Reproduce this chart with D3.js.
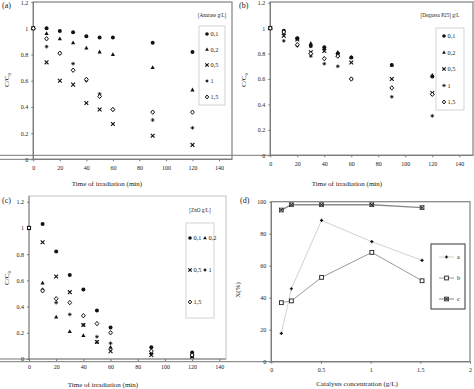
<!DOCTYPE html>
<html><head><meta charset="utf-8">
<script src="https://cdn.jsdelivr.net/npm/d3@7"></script>
<style>body{margin:0;background:#fff}svg{display:block}text{font-family:"Liberation Serif","DejaVu Serif",serif;fill:#222}</style>
</head><body><svg id="c" width="474" height="389"></svg>
<script>
const times = [0,10,20,30,40,50,60,90,120];
const seriesNames = ["0,1","0,2","0,5","1","1,5"];
const symbolsKeys = ["circle","triangle","x","plus","diamond"];
// Panel (a) Anatase
const a01 = [1,1.00,0.98,0.97,0.94,0.93,0.93,0.89,0.82];
const a02 = [1,0.96,0.92,0.89,0.85,0.82,0.80,0.70,0.53];
const a05 = [1,0.74,0.60,0.57,0.43,0.38,0.27,0.18,0.11];
const a1  = [1,0.86,0.81,0.73,0.60,0.50,0.38,0.30,0.24];
const a15 = [1,0.92,0.81,0.68,0.61,0.48,0.38,0.36,0.36];
// Panel (b) Degussa P25
const b01 = [1,0.98,0.92,0.86,0.85,0.80,0.77,0.71,0.62];
const b02 = [1,0.96,0.92,0.88,0.84,0.81,0.77,0.71,0.63];
const b05 = [1,0.94,0.91,0.81,0.82,0.79,0.73,0.60,0.49];
const b1  = [1,0.90,0.86,0.78,0.72,0.70,0.60,0.46,0.31];
const b15 = [1,0.97,0.87,0.80,0.76,0.78,0.60,0.53,0.48];
// Panel (c) ZnO
const c01 = [1,1.03,0.82,0.64,0.53,0.37,0.24,0.09,0.05];
const c02 = [1,0.58,0.32,0.21,0.18,0.13,0.09,0.05,0.02];
const c05 = [1,0.89,0.63,0.51,0.26,0.13,0.06,0.03,0.02];
const c1  = [1,0.53,0.43,0.34,0.26,0.17,0.12,0.04,0.02];
const c15 = [1,0.52,0.46,0.43,0.33,0.27,0.20,0.06,0.03];
// Panel (d)
const conc = [0.1,0.2,0.5,1,1.5];
const dA = [17.7,45.6,88.3,75,63.3];
const dB = [36.9,38,52.7,68.3,50.6];
const dC = [94.8,98.1,98.1,98.1,96.3];
const dNames = ["a","b","c"];
const xTicksT = [0,20,40,60,80,100,120,140];
const yTicksC = [0,0.2,0.4,0.6,0.8,1,1.2];
const xTicksD = [0,0.5,1,1.5,2];
const yTicksD = [0,20,40,60,80,100];

const svg = d3.select("#c");

function drawMarker(g, key, x, y, s){
  s = s||1.9;
  if(key==="circle") g.append("circle").attr("cx",x).attr("cy",y).attr("r",s*1.05).attr("fill","#111");
  else if(key==="triangle") g.append("path").attr("d",`M${x},${y-s*1.2}L${x+s*1.1},${y+s*0.8}L${x-s*1.1},${y+s*0.8}Z`).attr("fill","#111");
  else if(key==="x"){ g.append("path").attr("d",`M${x-s},${y-s}L${x+s},${y+s}M${x-s},${y+s}L${x+s},${y-s}`).attr("stroke","#111").attr("stroke-width",1.1).attr("fill","none"); }
  else if(key==="plus"){ g.append("path").attr("d",`M${x-s},${y}H${x+s}M${x},${y-s}V${y+s}M${x-s*0.6},${y-s*0.6}L${x+s*0.6},${y+s*0.6}M${x-s*0.6},${y+s*0.6}L${x+s*0.6},${y-s*0.6}`).attr("stroke","#111").attr("stroke-width",0.8).attr("fill","none"); }
  else if(key==="diamond") g.append("path").attr("d",`M${x},${y-s*1.15}L${x+s},${y}L${x},${y+s*1.15}L${x-s},${y}Z`).attr("stroke","#111").attr("stroke-width",1).attr("fill","#fff");
  else if(key==="square") g.append("rect").attr("x",x-s).attr("y",y-s).attr("width",2*s).attr("height",2*s).attr("stroke","#333").attr("stroke-width",1).attr("fill","#fff");
  else if(key==="xsq"){ g.append("rect").attr("x",x-s).attr("y",y-s).attr("width",2*s).attr("height",2*s).attr("stroke","#333").attr("stroke-width",0.8).attr("fill","none"); g.append("path").attr("d",`M${x-s},${y-s}L${x+s},${y+s}M${x-s},${y+s}L${x+s},${y-s}`).attr("stroke","#111").attr("stroke-width",1); }
  else if(key==="star"){ g.append("path").attr("d",`M${x-s},${y}H${x+s}M${x},${y-s}V${y+s}`).attr("stroke","#111").attr("stroke-width",1.2); }
}

function panel(opt){
  const g = svg.append("g");
  const x = d3.scaleLinear().domain(opt.xd).range(opt.xr);
  const y = d3.scaleLinear().domain(opt.yd).range(opt.yr);
  g.append("rect").attr("x",opt.xr[0]).attr("y",opt.frameTop).attr("width",opt.frameRight-opt.xr[0]).attr("height",opt.yr[0]-opt.frameTop)
    .attr("fill","none").attr("stroke",opt.frameColor||"#8a8a8a").attr("stroke-width",1.3);
  const xa = g.append("g").attr("transform",`translate(0,${opt.yr[0]})`)
    .call(d3.axisBottom(x).tickValues(opt.xt).tickSize(2).tickFormat(opt.xf||(d=>d)));
  const ya = g.append("g").attr("transform",`translate(${opt.xr[0]},0)`)
    .call(d3.axisLeft(y).tickValues(opt.yt).tickSize(2).tickFormat(opt.yf||(d=>d)));
  [xa,ya].forEach(a=>{a.select(".domain").attr("stroke","#777");a.selectAll("line").attr("stroke","#777");a.selectAll("text").attr("font-family","Liberation Serif").attr("font-size",6).attr("fill","#333");});
  xa.selectAll("text").attr("dy","0.9em");
  ya.select(".domain").attr("d",`M0,${opt.yr[0]}V${opt.frameTop}`);
  xa.select(".domain").attr("d",`M0,0H${opt.frameRight}`);
  g.append("text").attr("x",opt.lx).attr("y",opt.ly).attr("font-family","Arial, Liberation Sans").attr("font-size",8).text(opt.label);
  g.append("text").attr("x",opt.xtx).attr("y",opt.xty).attr("text-anchor","middle").attr("font-size",7).text(opt.xtitle);
  const yt = g.append("text").attr("transform",`translate(${opt.ytx},${opt.yty}) rotate(-90)`).attr("text-anchor","middle").attr("font-size",7);
  if(opt.ytitle==="C/C0"){ yt.append("tspan").text("C/C"); yt.append("tspan").attr("font-size",5).attr("dy",1.5).text("0"); }
  else yt.text(opt.ytitle);
  return {g,x,y};
}

function timePanel(opt, data){
  const p = panel(Object.assign({xd:[0,140],yd:[0,1.2],xt:xTicksT,yt:yTicksC,xtitle:"Time of irradiation (min)",ytitle:"C/C0"},opt));
  data.forEach((arr,i)=>{
    arr.forEach((v,j)=>drawMarker(p.g,symbolsKeys[i],p.x(times[j]),p.y(v)));
  });
  const L = opt.leg;
  p.g.append("rect").attr("x",L.x).attr("y",L.y).attr("width",L.w).attr("height",L.h).attr("fill","#fff").attr("stroke","#c8c8c8").attr("stroke-width",0.8);
  p.g.append("text").attr("x",L.tx).attr("y",L.ty).attr("font-size",5.2).attr("text-anchor","middle").text(L.title);
  L.items.forEach((it,i)=>{
    drawMarker(p.g,symbolsKeys[i],it[0],it[1],1.7);
    p.g.append("text").attr("x",it[0]+3.5).attr("y",it[1]+2).attr("font-size",6.3).text(seriesNames[i]);
  });
}

timePanel({xr:[33.3,219],yr:[159.3,2.1],frameTop:2,frameRight:232,label:"(a)",lx:2,ly:8,xtx:107,xty:186,ytx:9,yty:80,
  leg:{x:199,y:26,w:26,h:79,tx:212,ty:17,title:"[Anatase g/L]",items:[[207,34],[207,49.5],[207,65],[207,81],[207,97]]}},
  [a01,a02,a05,a1,a15]);
timePanel({xr:[270.3,459.3],yr:[155.3,2.7],frameTop:2,frameRight:473,label:"(b)",lx:239,ly:8,xtx:347,xty:186,ytx:246,yty:80,
  leg:{x:436,y:28,w:28,h:82,tx:440,ty:17,title:"[Degussa P25] g/L",items:[[444,36],[444,52.5],[444,69],[444,85.5],[444,102]]}},
  [b01,b02,b05,b1,b15]);
timePanel({xr:[29,219.3],yr:[359,201.7],frameTop:196,frameRight:226,frameColor:"#cfcfcf",label:"(c)",lx:2,ly:203,xtx:103,xty:387,ytx:9,yty:278,
  leg:{x:186,y:223,w:28,h:95,tx:200,ty:212,title:"[ZnO g/L]",items:[[190,238],[205,238],[190,270],[205,270],[190,302]]}},
  [c01,c02,c05,c1,c15]);

(function(){
  const p = panel({xd:[0,2],yd:[0,100],xr:[271.3,470],yr:[361.7,201.7],xt:xTicksD,yt:yTicksD,frameTop:201.7,frameRight:470,
    label:"(d)",lx:240,ly:203,xtx:357,xty:386,ytx:240,yty:290,xtitle:"Catalysts concentration (g/L)",ytitle:"X(%)"});
  p.x.range([271.3,472.3]);
  const sets = [dA,dB,dC];
  const mk = ["star","square","xsq"];
  const lc = ["#d2d2d2","#9a9a9a","#8a8a8a"];
  sets.forEach((arr,i)=>{
    const line = d3.line().x((d,j)=>p.x(conc[j])).y(d=>p.y(d));
    p.g.append("path").attr("d",line(arr)).attr("fill","none").attr("stroke",lc[i]).attr("stroke-width",i===2?1.4:1);
    arr.forEach((v,j)=>drawMarker(p.g,mk[i],p.x(conc[j]),p.y(v),i===0?1.6:1.9));
  });
  p.g.append("rect").attr("x",431).attr("y",244).attr("width",34).attr("height",65).attr("fill","#fff").attr("stroke","#555").attr("stroke-width",1.2);
  [257,278,299].forEach((yy,i)=>{
    p.g.append("line").attr("x1",439).attr("x2",454).attr("y1",yy).attr("y2",yy).attr("stroke",lc[i]);
    drawMarker(p.g,mk[i],446.5,yy,i===0?1.6:1.9);
    p.g.append("text").attr("x",457).attr("y",yy+2).attr("font-size",6.3).text(dNames[i]);
  });
})();
</script></body></html>
